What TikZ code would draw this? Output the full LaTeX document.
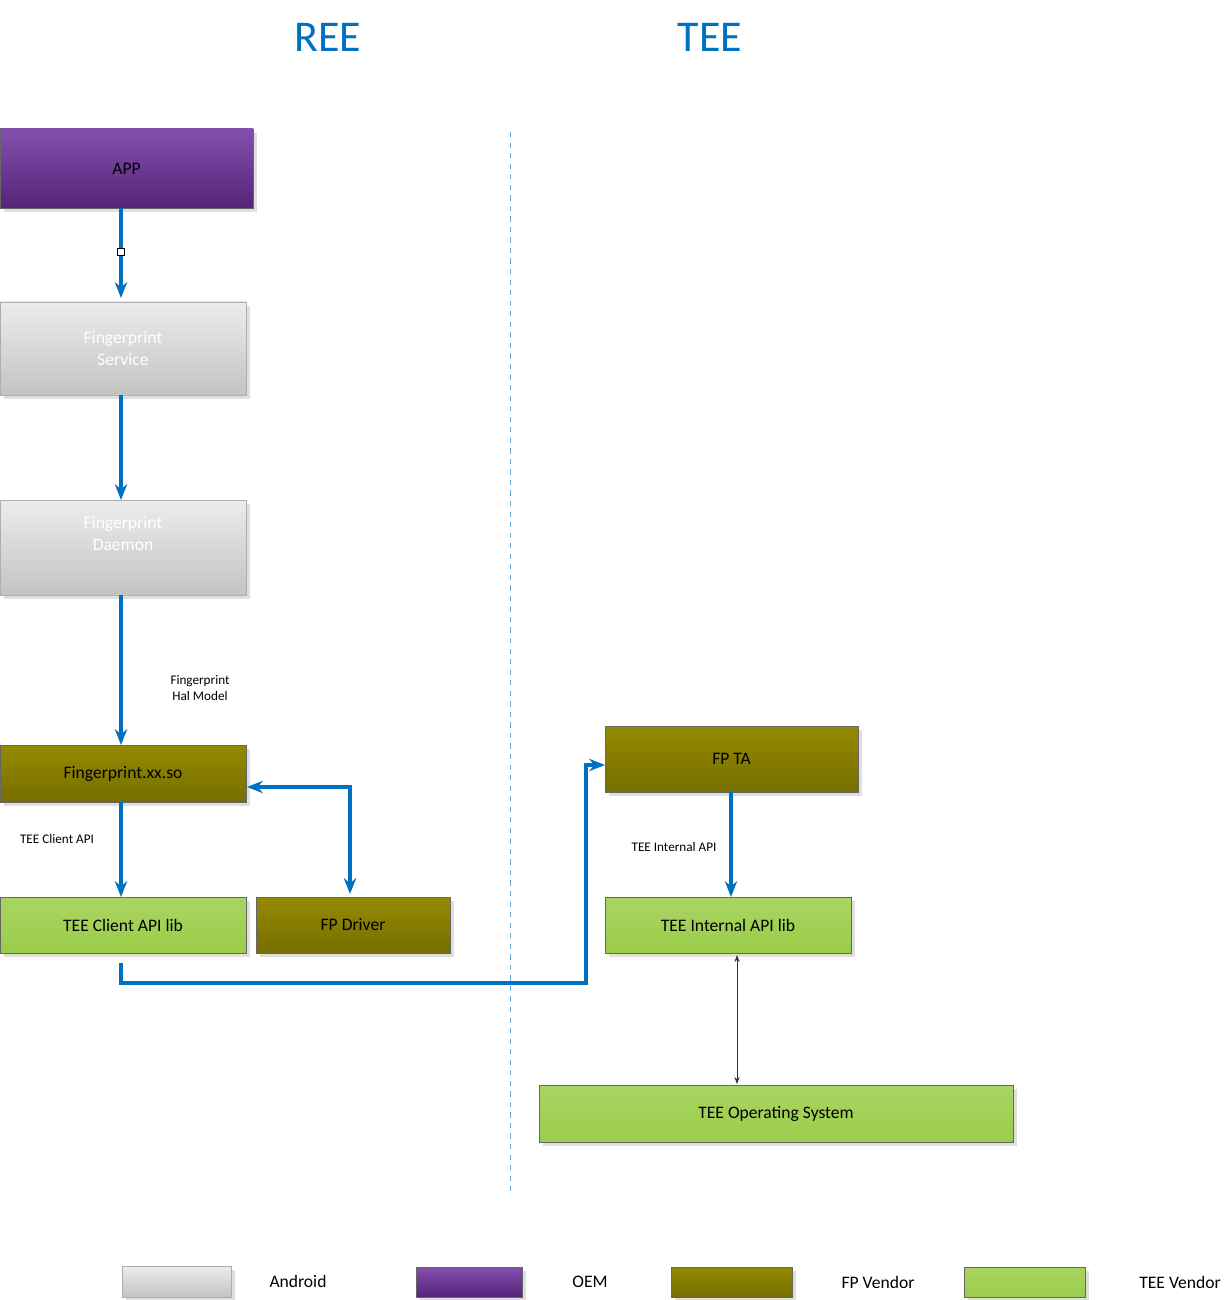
\documentclass[tikz,border=0pt]{standalone}
\usepackage{fontspec}
\setmainfont{Carlito}
\usetikzlibrary{arrows.meta,shadows}
\definecolor{blu}{HTML}{0070C0}
\definecolor{pur}{HTML}{7030A0}
\definecolor{oli}{HTML}{948A00}
\definecolor{grn}{HTML}{9ACD48}
\definecolor{gry}{HTML}{D9D9D9}
\begin{document}
\begin{tikzpicture}[x=0.02cm,y=-0.02cm,
 box/.style={draw=black!60,line width=0.4pt,minimum height=0pt,inner sep=0pt,font=\fontsize{10}{12}\selectfont,align=center,drop shadow={shadow xshift=2pt,shadow yshift=-2pt,opacity=0.25}},
 purb/.style={box,top color=pur!85,bottom color=pur!75!black},
 gryb/.style={box,draw=gry!80!black,top color=gry!50,bottom color=gry!90!black,text=white},
 olib/.style={box,top color=oli,bottom color=oli!80!black},
 grnb/.style={box,top color=grn!85,bottom color=grn},
 flow/.style={blu,line width=2.2pt,-{Stealth[length=9pt,width=7pt]}},
 lbl/.style={font=\fontsize{7.5}{9}\selectfont,align=center},
 leg/.style={font=\fontsize{10}{12}\selectfont}]
\useasboundingbox (0,0) rectangle (1231,1300);
\node[font=\fontsize{25}{30}\selectfont,text=blu] (ree) at (328,37) {REE};
\node[font=\fontsize{25}{30}\selectfont,text=blu] (tee) at (710,37) {TEE};
\draw[blu!60,dashed] (510,132) -- (510,1195);
\path[purb] (0,129) rectangle (253,208);
\node (app) at (126.5,168.5) [font=\fontsize{10}{12}\selectfont] {APP};
\path[gryb] (0,302) rectangle (246,395);
\node (fs) at (123,348.5) [text=white,align=center,font=\fontsize{10}{12}\selectfont] {Fingerprint\\Service};
\path[gryb] (0,500) rectangle (246,595);
\node (fd) at (123,533.5) [text=white,align=center,font=\fontsize{10}{12}\selectfont] {Fingerprint\\Daemon};
\path[olib] (0,745) rectangle (246,802);
\node (so) at (123,773.5) [font=\fontsize{10}{12}\selectfont] {Fingerprint.xx.so};
\path[grnb] (0,897) rectangle (246,953);
\node (cl) at (123,925) [font=\fontsize{10}{12}\selectfont] {TEE Client API lib};
\path[olib] (256,897) rectangle (450,953);
\node (drv) at (353,925) [font=\fontsize{10}{12}\selectfont] {FP Driver};
\path[olib] (605,726) rectangle (858,792);
\node (ta) at (731.5,759) [font=\fontsize{10}{12}\selectfont] {FP TA};
\path[grnb] (605,897) rectangle (851,953);
\node (il) at (728,925) [font=\fontsize{10}{12}\selectfont] {TEE Internal API lib};
\path[grnb] (539,1085) rectangle (1013,1142);
\node (os) at (776,1113.5) [font=\fontsize{10}{12}\selectfont] {TEE Operating System};
\coordinate (a1) at (121,208); \coordinate (a2) at (121,298);
\coordinate (b1) at (121,395); \coordinate (b2) at (121,500);
\coordinate (c1) at (121,595); \coordinate (c2) at (121,745);
\coordinate (d1) at (121,802); \coordinate (d2) at (121,897);
\coordinate (e1) at (247,787); \coordinate (e2) at (350,894);
\coordinate (f1) at (121,963); \coordinate (f2) at (605,765);
\coordinate (g1) at (731,792); \coordinate (g2) at (731,897);
\coordinate (h1) at (737,955); \coordinate (h2) at (737,1084);
\draw[flow] (a1) -- (a2);
\node[draw=black,fill=white,minimum size=4pt,inner sep=0pt] (sq) at (121,252) {};
\draw[flow] (b1) -- (b2);
\draw[flow] (c1) -- (c2);
\draw[flow] (d1) -- (d2);
\draw[flow,{Stealth[length=9pt,width=7pt]}-{Stealth[length=9pt,width=7pt]}] (e1) -| (e2);
\draw[flow] (f1) -- (121,983) -- (586,983) |- (f2);
\draw[flow] (g1) -- (g2);
\draw[black!80,line width=0.5pt,{Stealth[length=4pt]}-{Stealth[length=4pt]}] (h1) -- (h2);
\node[lbl] (hal) at (200,688) {Fingerprint\\Hal Model};
\node[lbl] (tca) at (57,839) {TEE Client API};
\node[lbl] (tia) at (674,847) {TEE Internal API};
\path[gryb] (122,1266) rectangle (231,1297);
\node[leg] (l1) at (298,1281) {Android};
\path[purb] (416,1267) rectangle (522,1297);
\node[leg] (l2) at (590,1282) {OEM};
\path[olib] (671,1267) rectangle (792,1297);
\node[leg] (l3) at (878,1282) {FP Vendor};
\path[grnb] (964,1267) rectangle (1085,1297);
\node[leg] (l4) at (1180,1282) {TEE Vendor};
\end{tikzpicture}
\end{document}
